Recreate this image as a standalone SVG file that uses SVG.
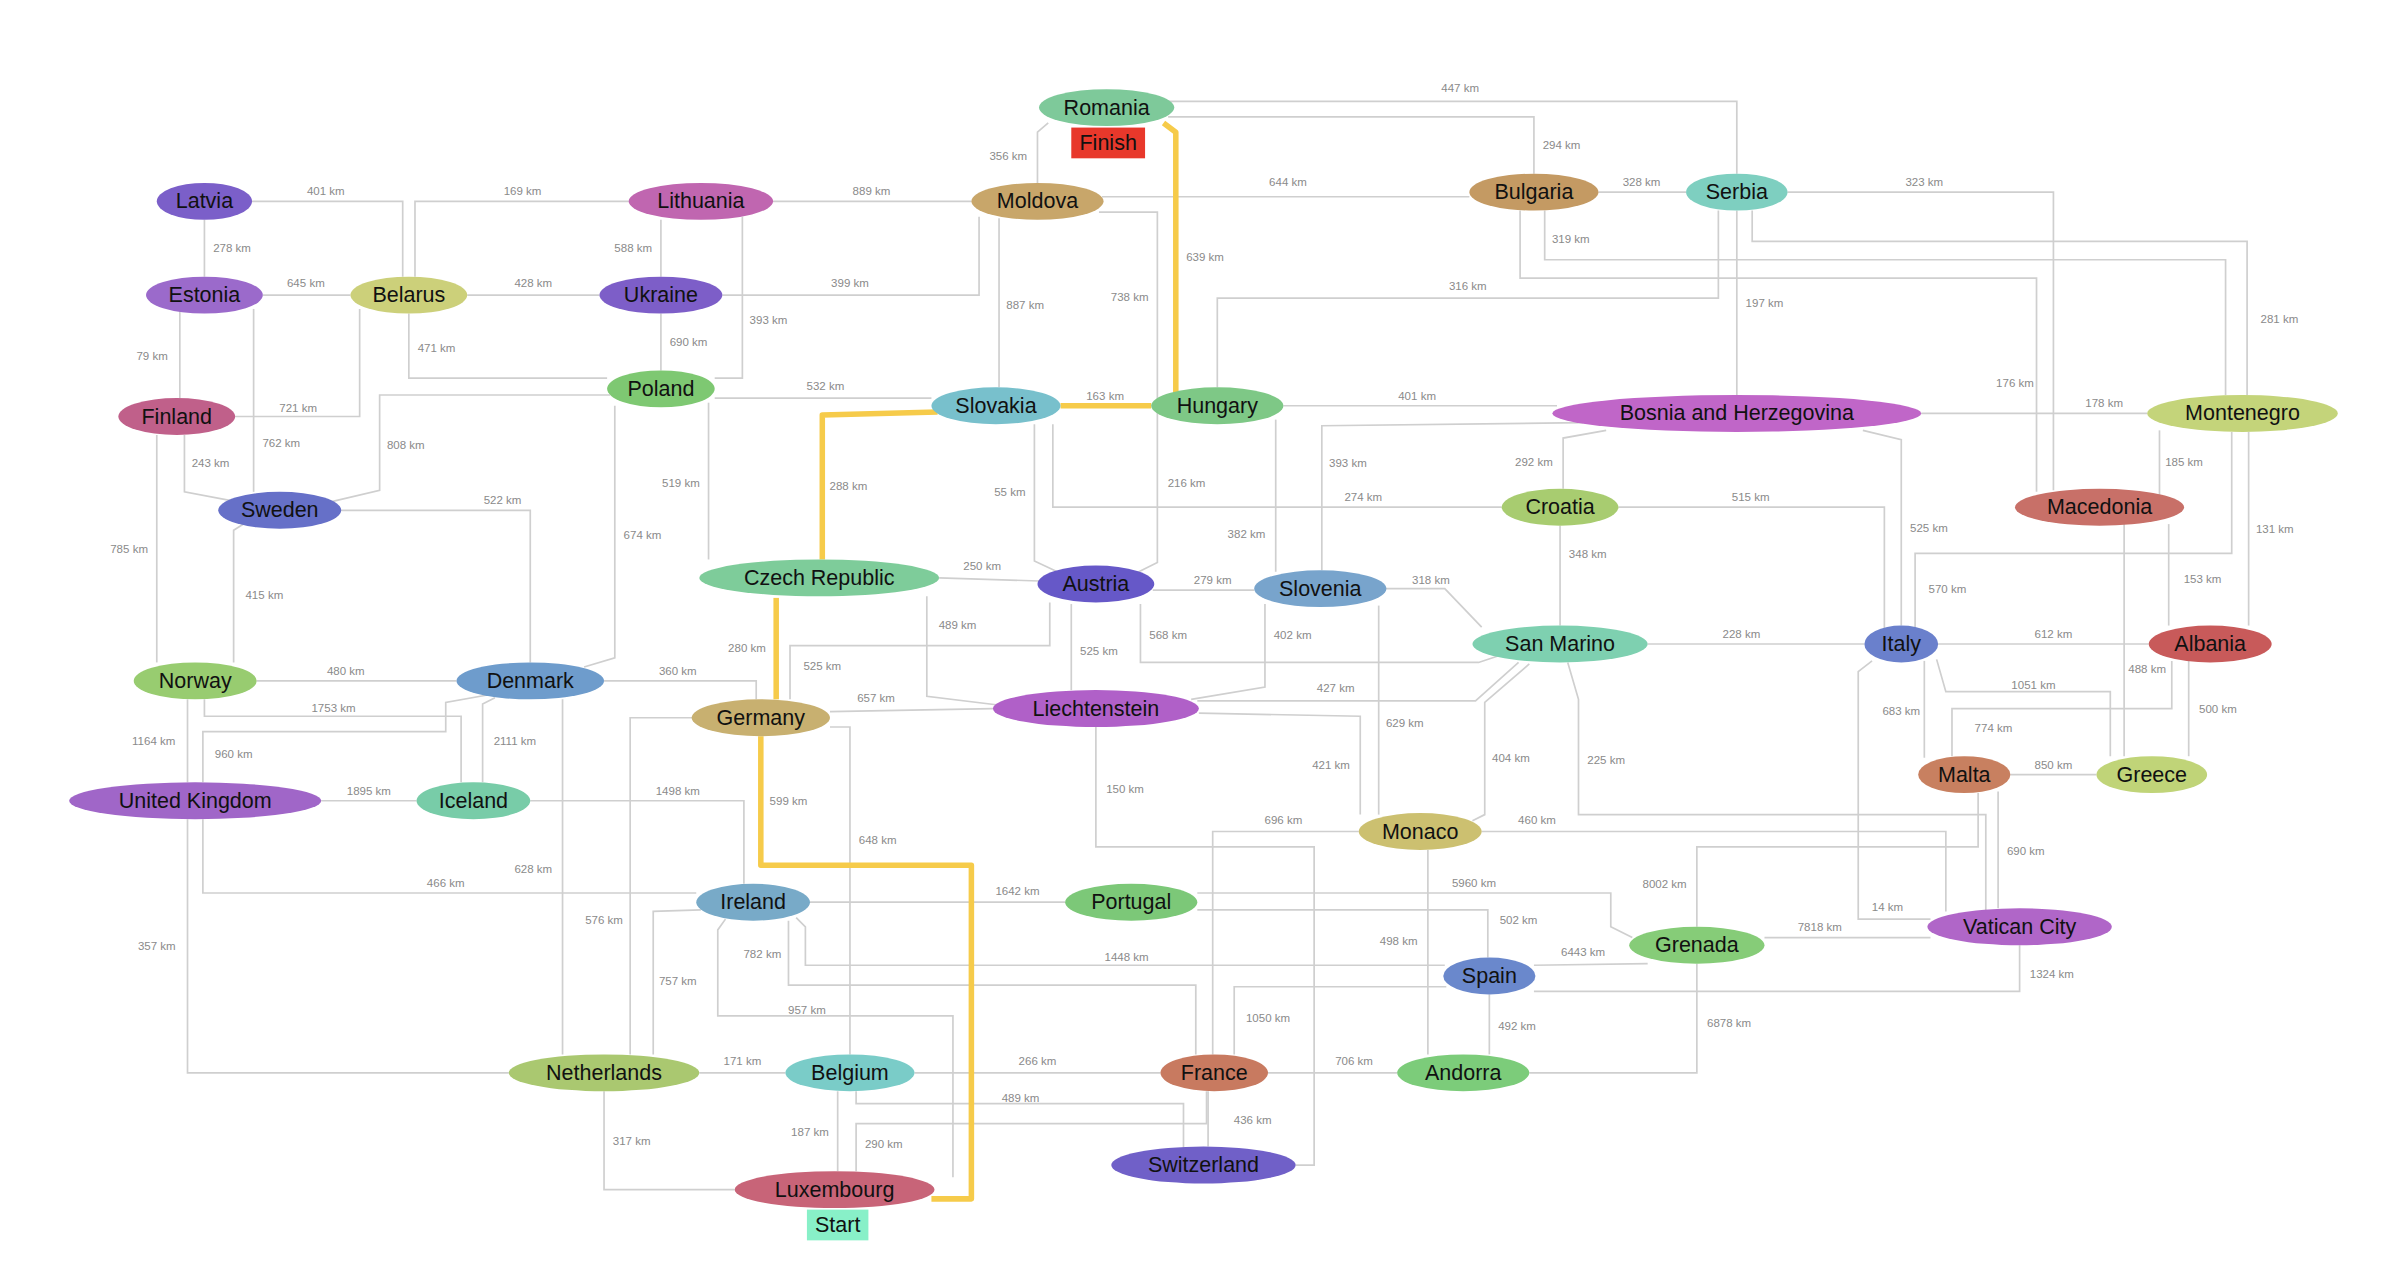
<svg xmlns="http://www.w3.org/2000/svg" width="2398" height="1274" viewBox="0 0 2398 1274">
<style>
.e{fill:none;stroke:#cfcfcf;stroke-width:1.1}
.p{fill:none;stroke:#f6cb4a;stroke-width:3.6;stroke-linejoin:round}
.l{font-family:"Liberation Sans",Arial,sans-serif;font-size:7.5px;fill:#8a8a8a;text-anchor:middle}
.n text{font-family:"Liberation Sans",Arial,sans-serif;font-size:14px;fill:#111;text-anchor:middle;dominant-baseline:central}
</style>
<rect width="2398" height="1274" fill="#fff"/>
<g transform="scale(1.537)">
<g id="connectors">
<polyline class="e" points="760,66 1130,66 1130,113"/>
<polyline class="e" points="760,76 998,76 998,113"/>
<polyline class="e" points="682,80 675,86 675,119"/>
<polyline class="e" points="164,131 262,131 262,180"/>
<polyline class="e" points="133,143 133,180"/>
<polyline class="e" points="270,180 270,131 409,131"/>
<polyline class="e" points="503,131 632,131"/>
<polyline class="e" points="430,143 430,180"/>
<polyline class="e" points="483,141 483,246 465,246"/>
<polyline class="e" points="171,192 228,192"/>
<polyline class="e" points="304,192 390,192"/>
<polyline class="e" points="470,192 637,192 637,141"/>
<polyline class="e" points="266,204 266,246 395,246"/>
<polyline class="e" points="430,204 430,241"/>
<polyline class="e" points="117,202 117,259"/>
<polyline class="e" points="165,201 165,320"/>
<polyline class="e" points="234,201 234,271 153,271"/>
<polyline class="e" points="120,283 120,320 152,326"/>
<polyline class="e" points="397,257 247,257 247,319 213,327"/>
<polyline class="e" points="465,259 606,259"/>
<polyline class="e" points="650,142 650,252"/>
<polyline class="e" points="715,138 753,138 753,366 737,374"/>
<polyline class="e" points="673,276 673,365 690,373"/>
<polyline class="e" points="685,276 685,330 977,330"/>
<polyline class="e" points="835,264 1013,264"/>
<polyline class="e" points="792,252 792,194 1118,194 1118,137"/>
<polyline class="e" points="830,273 830,372"/>
<polyline class="e" points="717,128 956,128"/>
<polyline class="e" points="1040,125 1097,125"/>
<polyline class="e" points="1163,125 1336,125 1336,319"/>
<polyline class="e" points="989,137 989,181 1325,181 1325,320"/>
<polyline class="e" points="1005,137 1005,169 1448,169 1448,257"/>
<polyline class="e" points="1140,137 1140,157 1462,157 1462,257"/>
<polyline class="e" points="1130,137 1130,257"/>
<polyline class="e" points="1250,269 1397,269"/>
<polyline class="e" points="1045,280 1017,285 1017,318"/>
<polyline class="e" points="1030,275 860,277 860,371"/>
<polyline class="e" points="1212,280 1237,286 1237,407"/>
<polyline class="e" points="1015,342 1015,407"/>
<polyline class="e" points="1053,330 1226,330 1226,409"/>
<polyline class="e" points="1405,280 1405,324"/>
<polyline class="e" points="1452,281 1452,360 1246,360 1246,408"/>
<polyline class="e" points="1463,281 1463,407"/>
<polyline class="e" points="1411,341 1411,407"/>
<polyline class="e" points="1382,341 1382,492"/>
<polyline class="e" points="222,332 345,332 345,431"/>
<polyline class="e" points="160,340 152,345 152,431"/>
<polyline class="e" points="102,283 102,431"/>
<polyline class="e" points="400,264 400,428 380,434"/>
<polyline class="e" points="461,262 461,364"/>
<polyline class="e" points="611,376 676,378"/>
<polyline class="e" points="603,388 603,453 660,460"/>
<polyline class="e" points="750,384 816,384"/>
<polyline class="e" points="683,392 683,420 514,420 514,455"/>
<polyline class="e" points="697,393 697,449"/>
<polyline class="e" points="742,393 742,431 962,431 977,426"/>
<polyline class="e" points="823,393 823,447 775,455"/>
<polyline class="e" points="901,383 940,383 964,408"/>
<polyline class="e" points="897,394 897,530"/>
<polyline class="e" points="1072,419 1213,419"/>
<polyline class="e" points="1261,419 1398,419"/>
<polyline class="e" points="988,431 960,456 779,456"/>
<polyline class="e" points="995,432 966,457 966,530 958,534"/>
<polyline class="e" points="1020,431 1027,455 1027,530 1292,530 1292,592"/>
<polyline class="e" points="780,464 885,466 885,530"/>
<polyline class="e" points="713,473 713,551 855,551 855,758 843,758"/>
<polyline class="e" points="540,463 646,461"/>
<polyline class="e" points="393,443 492,443 492,455"/>
<polyline class="e" points="167,443 297,443"/>
<polyline class="e" points="133,455 133,466 300,466 300,509"/>
<polyline class="e" points="318,452 290,457 290,476 132,476 132,509"/>
<polyline class="e" points="322,454 314,458 314,509"/>
<polyline class="e" points="122,455 122,509"/>
<polyline class="e" points="209,521 271,521"/>
<polyline class="e" points="345,521 484,521 484,575"/>
<polyline class="e" points="132,533 132,581 453,581"/>
<polyline class="e" points="366,455 366,686"/>
<polyline class="e" points="451,467 410,467 410,686"/>
<polyline class="e" points="456,592 425,593 425,686"/>
<polyline class="e" points="122,533 122,698 331,698"/>
<polyline class="e" points="540,473 553,473 553,686"/>
<polyline class="e" points="527,587 693,587"/>
<polyline class="e" points="518,597 524,603 524,628 940,628"/>
<polyline class="e" points="513,599 513,641 778,641 778,686"/>
<polyline class="e" points="472,598 467,605 467,661 620,661 620,766"/>
<polyline class="e" points="779,581 1048,581 1048,603 1062,610"/>
<polyline class="e" points="779,592 968,592 968,623"/>
<polyline class="e" points="884,541 789,541 789,686"/>
<polyline class="e" points="964,541 1266,541 1266,593"/>
<polyline class="e" points="929,553 929,686"/>
<polyline class="e" points="1287,516 1287,551 1104,551 1104,603"/>
<polyline class="e" points="1300,515 1300,591"/>
<polyline class="e" points="1308,504 1364,504"/>
<polyline class="e" points="1252,430 1252,493"/>
<polyline class="e" points="1260,429 1266,450 1373,450 1373,492"/>
<polyline class="e" points="1413,430 1413,461 1270,461 1270,492"/>
<polyline class="e" points="1424,430 1424,492"/>
<polyline class="e" points="1218,430 1209,437 1209,598 1256,598"/>
<polyline class="e" points="1148,610 1256,610"/>
<polyline class="e" points="998,628 1072,627"/>
<polyline class="e" points="998,645 1314,645 1314,615"/>
<polyline class="e" points="969,647 969,686"/>
<polyline class="e" points="941,642 803,642 803,686"/>
<polyline class="e" points="1104,627 1104,698 995,698"/>
<polyline class="e" points="455,698 511,698"/>
<polyline class="e" points="595,698 755,698"/>
<polyline class="e" points="825,698 909,698"/>
<polyline class="e" points="557,710 557,718 770,718 770,747"/>
<polyline class="e" points="545,710 545,762"/>
<polyline class="e" points="557,762 557,731 785,731 785,710"/>
<polyline class="e" points="393,710 393,774 478,774"/>
<polyline class="e" points="786,710 786,746"/>
<polyline class="p" points="757,80 765,86 765,264"/>
<polyline class="p" points="690,264 749,264"/>
<polyline class="p" points="610,268 535,270 535,364"/>
<polyline class="p" points="505,389 505,455"/>
<polyline class="p" points="495,479 495,563 632,563 632,780 606,780"/>
<g>
<text class="l" x="950" y="60">447 km</text><text class="l" x="1016" y="97">294 km</text><text class="l" x="656" y="104">356 km</text><text class="l" x="784" y="170">639 km</text>
<text class="l" x="212" y="127">401 km</text><text class="l" x="151" y="164">278 km</text><text class="l" x="340" y="127">169 km</text><text class="l" x="567" y="127">889 km</text>
<text class="l" x="412" y="164">588 km</text><text class="l" x="500" y="211">393 km</text><text class="l" x="199" y="187">645 km</text><text class="l" x="347" y="187">428 km</text>
<text class="l" x="553" y="187">399 km</text><text class="l" x="284" y="229">471 km</text><text class="l" x="448" y="225">690 km</text><text class="l" x="99" y="234">79 km</text>
<text class="l" x="183" y="291">762 km</text><text class="l" x="194" y="268">721 km</text><text class="l" x="137" y="304">243 km</text><text class="l" x="264" y="292">808 km</text>
<text class="l" x="537" y="254">532 km</text><text class="l" x="667" y="201">887 km</text><text class="l" x="735" y="196">738 km</text><text class="l" x="719" y="260">163 km</text>
<text class="l" x="552" y="319">288 km</text><text class="l" x="657" y="323">55 km</text><text class="l" x="887" y="326">274 km</text><text class="l" x="922" y="260">401 km</text>
<text class="l" x="772" y="317">216 km</text><text class="l" x="955" y="189">316 km</text><text class="l" x="811" y="350">382 km</text><text class="l" x="838" y="121">644 km</text>
<text class="l" x="1068" y="121">328 km</text><text class="l" x="1252" y="121">323 km</text><text class="l" x="1311" y="252">176 km</text><text class="l" x="1022" y="158">319 km</text>
<text class="l" x="1483" y="210">281 km</text><text class="l" x="1148" y="200">197 km</text><text class="l" x="1369" y="265">178 km</text><text class="l" x="998" y="303">292 km</text>
<text class="l" x="877" y="304">393 km</text><text class="l" x="1255" y="346">525 km</text><text class="l" x="1033" y="363">348 km</text><text class="l" x="1139" y="326">515 km</text>
<text class="l" x="1421" y="303">185 km</text><text class="l" x="1267" y="386">570 km</text><text class="l" x="1480" y="347">131 km</text><text class="l" x="1433" y="379">153 km</text>
<text class="l" x="1397" y="438">488 km</text><text class="l" x="327" y="328">522 km</text><text class="l" x="172" y="390">415 km</text><text class="l" x="84" y="360">785 km</text>
<text class="l" x="418" y="351">674 km</text><text class="l" x="443" y="317">519 km</text><text class="l" x="639" y="371">250 km</text><text class="l" x="623" y="409">489 km</text>
<text class="l" x="486" y="424">280 km</text><text class="l" x="789" y="380">279 km</text><text class="l" x="535" y="436">525 km</text><text class="l" x="715" y="426">525 km</text>
<text class="l" x="760" y="416">568 km</text><text class="l" x="841" y="416">402 km</text><text class="l" x="931" y="380">318 km</text><text class="l" x="914" y="473">629 km</text>
<text class="l" x="1133" y="415">228 km</text><text class="l" x="1336" y="415">612 km</text><text class="l" x="869" y="450">427 km</text><text class="l" x="983" y="496">404 km</text>
<text class="l" x="1045" y="497">225 km</text><text class="l" x="866" y="500">421 km</text><text class="l" x="732" y="516">150 km</text><text class="l" x="570" y="457">657 km</text>
<text class="l" x="441" y="439">360 km</text><text class="l" x="225" y="439">480 km</text><text class="l" x="217" y="463">1753 km</text><text class="l" x="152" y="493">960 km</text>
<text class="l" x="335" y="485">2111 km</text><text class="l" x="100" y="485">1164 km</text><text class="l" x="240" y="517">1895 km</text><text class="l" x="441" y="517">1498 km</text>
<text class="l" x="290" y="577">466 km</text><text class="l" x="347" y="568">628 km</text><text class="l" x="393" y="601">576 km</text><text class="l" x="441" y="641">757 km</text>
<text class="l" x="102" y="618">357 km</text><text class="l" x="513" y="524">599 km</text><text class="l" x="571" y="549">648 km</text><text class="l" x="662" y="582">1642 km</text>
<text class="l" x="733" y="625">1448 km</text><text class="l" x="496" y="623">782 km</text><text class="l" x="525" y="660">957 km</text><text class="l" x="959" y="577">5960 km</text>
<text class="l" x="988" y="601">502 km</text><text class="l" x="835" y="536">696 km</text><text class="l" x="1000" y="536">460 km</text><text class="l" x="910" y="615">498 km</text>
<text class="l" x="1083" y="578">8002 km</text><text class="l" x="1318" y="556">690 km</text><text class="l" x="1336" y="500">850 km</text><text class="l" x="1237" y="465">683 km</text>
<text class="l" x="1323" y="448">1051 km</text><text class="l" x="1297" y="476">774 km</text><text class="l" x="1443" y="464">500 km</text><text class="l" x="1228" y="593">14 km</text>
<text class="l" x="1184" y="606">7818 km</text><text class="l" x="1030" y="622">6443 km</text><text class="l" x="1335" y="636">1324 km</text><text class="l" x="987" y="670">492 km</text>
<text class="l" x="825" y="665">1050 km</text><text class="l" x="1125" y="668">6878 km</text><text class="l" x="483" y="693">171 km</text><text class="l" x="675" y="693">266 km</text>
<text class="l" x="881" y="693">706 km</text><text class="l" x="664" y="717">489 km</text><text class="l" x="527" y="739">187 km</text><text class="l" x="575" y="747">290 km</text>
<text class="l" x="411" y="745">317 km</text><text class="l" x="815" y="731">436 km</text>
</g>
</g>
<g class="n">
<g id="n-romania"><ellipse cx="720" cy="70" rx="44" ry="12" fill="#7ec99a"/><text x="720" y="70">Romania</text></g>
<g id="finish"><rect x="697" y="83" width="48" height="20" fill="#e8382b"/><text x="721" y="93">Finish</text></g>
<g id="n-latvia"><ellipse cx="133" cy="131" rx="31" ry="12" fill="#7b5fc9"/><text x="133" y="131">Latvia</text></g>
<g id="n-lithuania"><ellipse cx="456" cy="131" rx="47" ry="12" fill="#c066b0"/><text x="456" y="131">Lithuania</text></g>
<g id="n-moldova"><ellipse cx="675" cy="131" rx="43" ry="12" fill="#c8a66a"/><text x="675" y="131">Moldova</text></g>
<g id="n-bulgaria"><ellipse cx="998" cy="125" rx="42" ry="12" fill="#c49a63"/><text x="998" y="125">Bulgaria</text></g>
<g id="n-serbia"><ellipse cx="1130" cy="125" rx="33" ry="12" fill="#7ecfc0"/><text x="1130" y="125">Serbia</text></g>
<g id="n-estonia"><ellipse cx="133" cy="192" rx="38" ry="12" fill="#9b6acb"/><text x="133" y="192">Estonia</text></g>
<g id="n-belarus"><ellipse cx="266" cy="192" rx="38" ry="12" fill="#ccd07a"/><text x="266" y="192">Belarus</text></g>
<g id="n-ukraine"><ellipse cx="430" cy="192" rx="40" ry="12" fill="#7d5ec8"/><text x="430" y="192">Ukraine</text></g>
<g id="n-finland"><ellipse cx="115" cy="271" rx="38" ry="12" fill="#c0608a"/><text x="115" y="271">Finland</text></g>
<g id="n-poland"><ellipse cx="430" cy="253" rx="35" ry="12" fill="#7ec872"/><text x="430" y="253">Poland</text></g>
<g id="n-slovakia"><ellipse cx="648" cy="264" rx="42" ry="12" fill="#78c0cc"/><text x="648" y="264">Slovakia</text></g>
<g id="n-hungary"><ellipse cx="792" cy="264" rx="43" ry="12" fill="#7ec886"/><text x="792" y="264">Hungary</text></g>
<g id="n-bosnia"><ellipse cx="1130" cy="269" rx="120" ry="12" fill="#c066c8"/><text x="1130" y="269">Bosnia and Herzegovina</text></g>
<g id="n-montenegro"><ellipse cx="1459" cy="269" rx="62" ry="12" fill="#c4d47a"/><text x="1459" y="269">Montenegro</text></g>
<g id="n-sweden"><ellipse cx="182" cy="332" rx="40" ry="12" fill="#6670c8"/><text x="182" y="332">Sweden</text></g>
<g id="n-croatia"><ellipse cx="1015" cy="330" rx="38" ry="12" fill="#a8cc70"/><text x="1015" y="330">Croatia</text></g>
<g id="n-macedonia"><ellipse cx="1366" cy="330" rx="55" ry="12" fill="#c87068"/><text x="1366" y="330">Macedonia</text></g>
<g id="n-czech"><ellipse cx="533" cy="376" rx="78" ry="12" fill="#7ecc9a"/><text x="533" y="376">Czech Republic</text></g>
<g id="n-austria"><ellipse cx="713" cy="380" rx="38" ry="12" fill="#6658c8"/><text x="713" y="380">Austria</text></g>
<g id="n-slovenia"><ellipse cx="859" cy="383" rx="43" ry="12" fill="#78a4cc"/><text x="859" y="383">Slovenia</text></g>
<g id="n-sanmarino"><ellipse cx="1015" cy="419" rx="57" ry="12" fill="#7ed0b0"/><text x="1015" y="419">San Marino</text></g>
<g id="n-italy"><ellipse cx="1237" cy="419" rx="24" ry="12" fill="#6a80cc"/><text x="1237" y="419">Italy</text></g>
<g id="n-albania"><ellipse cx="1438" cy="419" rx="40" ry="12" fill="#c85a5a"/><text x="1438" y="419">Albania</text></g>
<g id="n-norway"><ellipse cx="127" cy="443" rx="40" ry="12" fill="#98cc70"/><text x="127" y="443">Norway</text></g>
<g id="n-denmark"><ellipse cx="345" cy="443" rx="48" ry="12" fill="#6e9ccc"/><text x="345" y="443">Denmark</text></g>
<g id="n-liechtenstein"><ellipse cx="713" cy="461" rx="67" ry="12" fill="#b060c8"/><text x="713" y="461">Liechtenstein</text></g>
<g id="n-germany"><ellipse cx="495" cy="467" rx="45" ry="12" fill="#c8b070"/><text x="495" y="467">Germany</text></g>
<g id="n-malta"><ellipse cx="1278" cy="504" rx="30" ry="12" fill="#c88060"/><text x="1278" y="504">Malta</text></g>
<g id="n-greece"><ellipse cx="1400" cy="504" rx="36" ry="12" fill="#c0d478"/><text x="1400" y="504">Greece</text></g>
<g id="n-uk"><ellipse cx="127" cy="521" rx="82" ry="12" fill="#a066c8"/><text x="127" y="521">United Kingdom</text></g>
<g id="n-iceland"><ellipse cx="308" cy="521" rx="37" ry="12" fill="#78cca8"/><text x="308" y="521">Iceland</text></g>
<g id="n-monaco"><ellipse cx="924" cy="541" rx="40" ry="12" fill="#ccc070"/><text x="924" y="541">Monaco</text></g>
<g id="n-ireland"><ellipse cx="490" cy="587" rx="37" ry="12" fill="#78aac8"/><text x="490" y="587">Ireland</text></g>
<g id="n-portugal"><ellipse cx="736" cy="587" rx="43" ry="12" fill="#7cc878"/><text x="736" y="587">Portugal</text></g>
<g id="n-vatican"><ellipse cx="1314" cy="603" rx="60" ry="12" fill="#b066c8"/><text x="1314" y="603">Vatican City</text></g>
<g id="n-grenada"><ellipse cx="1104" cy="615" rx="44" ry="12" fill="#86cc78"/><text x="1104" y="615">Grenada</text></g>
<g id="n-spain"><ellipse cx="969" cy="635" rx="30" ry="12" fill="#6a88cc"/><text x="969" y="635">Spain</text></g>
<g id="n-netherlands"><ellipse cx="393" cy="698" rx="62" ry="12" fill="#aac870"/><text x="393" y="698">Netherlands</text></g>
<g id="n-belgium"><ellipse cx="553" cy="698" rx="42" ry="12" fill="#7accc8"/><text x="553" y="698">Belgium</text></g>
<g id="n-france"><ellipse cx="790" cy="698" rx="35" ry="12" fill="#c87a60"/><text x="790" y="698">France</text></g>
<g id="n-andorra"><ellipse cx="952" cy="698" rx="43" ry="12" fill="#7ccc7a"/><text x="952" y="698">Andorra</text></g>
<g id="n-switzerland"><ellipse cx="783" cy="758" rx="60" ry="12" fill="#7060c8"/><text x="783" y="758">Switzerland</text></g>
<g id="n-luxembourg"><ellipse cx="543" cy="774" rx="65" ry="12" fill="#c86478"/><text x="543" y="774">Luxembourg</text></g>
<g id="start"><rect x="525" y="787" width="40" height="20" fill="#88f0c8"/><text x="545" y="797">Start</text></g>
</g>
</g>
</svg>
